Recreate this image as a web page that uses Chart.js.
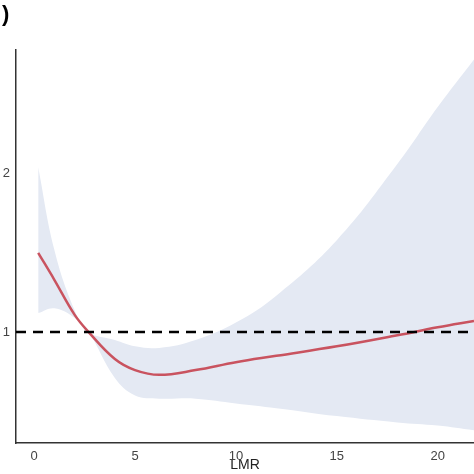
<!DOCTYPE html>
<html><head><meta charset="utf-8">
<script src="https://cdn.jsdelivr.net/npm/chart.js@4"></script>
<style>html,body{margin:0;padding:0;background:#fff}#w{width:474px;height:474px}</style>
</head><body><div id="w"><canvas id="c"></canvas></div>
<script>
const xs    = [0.2, 1, 2, 2.7, 4, 5, 6.2, 8, 10, 12, 15, 18, 20, 21.8];
const est   = [1.50, 1.33, 1.11, 1.0, 0.83, 0.76, 0.73, 0.76, 0.81, 0.85, 0.91, 0.98, 1.03, 1.07];
const upper = [2.04, 1.52, 1.14, 1.0, 0.95, 0.91, 0.90, 0.95, 1.06, 1.23, 1.58, 2.06, 2.42, 2.72];
const lower = [1.12, 1.15, 1.09, 1.0, 0.71, 0.60, 0.58, 0.58, 0.55, 0.52, 0.47, 0.43, 0.41, 0.38];
const xTicks = [0, 5, 10, 15, 20];
const yTicks = [1, 2];
const refY = 1;
const pts = a => xs.map((x,i)=>({x, y:a[i]}));
const panelLabel = {id:'pl', afterDraw(ch){const c=ch.ctx;c.save();c.font='bold 22px Liberation Sans, Arial';c.fillStyle='#000';c.textBaseline='top';c.fillText(')',2,4);c.restore();}};
new Chart(document.getElementById('c'), {
  type:'line',
  data:{datasets:[
    {data:pts(upper), borderWidth:0, pointRadius:0, backgroundColor:'#e4e9f3', fill:'+1', tension:0.4, order:5},
    {data:pts(lower), borderWidth:0, pointRadius:0, fill:false, tension:0.4, order:6},
    {data:pts(est), borderColor:'#c9535f', borderWidth:2.5, pointRadius:0, fill:false, tension:0.4, order:1},
    {data:[{x:-0.9,y:refY},{x:21.8,y:refY}], borderColor:'#000', borderWidth:2.5, borderDash:[10,7], pointRadius:0, fill:false, order:0}
  ]},
  plugins:[panelLabel],
  options:{
    responsive:true, maintainAspectRatio:false, animation:false,
    layout:{padding:{top:50,left:0,right:0,bottom:0}},
    plugins:{legend:{display:false}, tooltip:{enabled:false}},
    scales:{
      x:{type:'linear', min:-0.9, max:21.8, grid:{display:false, drawTicks:true, tickLength:5, tickColor:'#333'},
         border:{color:'#333', width:1.5},
         afterBuildTicks(s){s.ticks=xTicks.map(v=>({value:v}));},
         afterFit(s){s.height=31;},
         ticks:{color:'#444', font:{size:13, family:'Liberation Sans'}, padding:1, maxRotation:0},
         title:{display:true, text:'LMR', color:'#222', font:{size:14, family:'Liberation Sans'}, padding:{top:0,bottom:0}}},
      y:{type:'linear', min:0.3, max:2.78, grid:{display:false, tickLength:5, tickColor:'#333'},
         border:{color:'#333', width:1.5},
         afterBuildTicks(s){s.ticks=yTicks.map(v=>({value:v}));},
         afterFit(s){s.width=16;},
         ticks:{color:'#444', font:{size:13, family:'Liberation Sans'}, padding:1}}
    }
  }
});
</script></body></html>
